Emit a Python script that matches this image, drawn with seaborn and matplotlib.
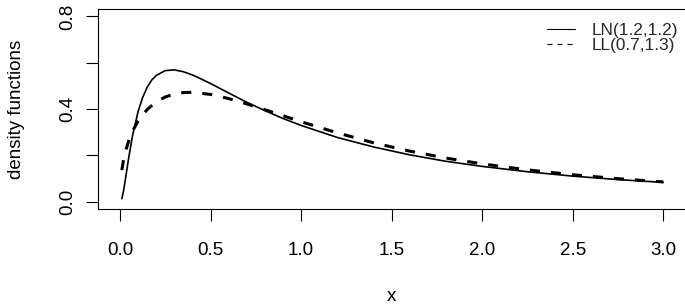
import numpy as np
import pandas as pd
import matplotlib
matplotlib.use('agg')
import matplotlib.pyplot as plt
import seaborn as sns
from matplotlib.lines import Line2D

# values
x_ln = [0.01, 0.02, 0.03, 0.04, 0.05, 0.07, 0.1, 0.125, 0.15, 0.175, 0.2, 0.25, 0.3,
        0.35, 0.4, 0.45, 0.5, 0.6, 0.7, 0.8, 0.9, 1.0, 1.2, 1.4, 1.6, 1.8, 2.0,
        2.25, 2.5, 2.75, 3.0]
ln_density = [0.012, 0.049, 0.098, 0.150, 0.199, 0.288, 0.390, 0.450, 0.494, 0.525,
              0.545, 0.566, 0.569, 0.561, 0.547, 0.529, 0.510, 0.469, 0.429, 0.393,
              0.359, 0.329, 0.277, 0.236, 0.202, 0.174, 0.152, 0.129, 0.110, 0.095,
              0.083]

x_ll = [0.01, 0.02, 0.03, 0.05, 0.075, 0.1, 0.15, 0.2, 0.25, 0.3, 0.35, 0.4, 0.5,
        0.6, 0.7, 0.8, 0.9, 1.0, 1.2, 1.4, 1.6, 1.8, 2.0, 2.25, 2.5, 2.75, 3.0]
ll_density = [0.136, 0.183, 0.217, 0.267, 0.313, 0.348, 0.398, 0.431, 0.452, 0.465,
              0.471, 0.472, 0.463, 0.445, 0.422, 0.397, 0.371, 0.345, 0.297, 0.254,
              0.218, 0.188, 0.163, 0.137, 0.116, 0.099, 0.085]

legend_labels = ["LN(1.2,1.2)", "LL(0.7,1.3)"]
x_ticks = [0.0, 0.5, 1.0, 1.5, 2.0, 2.5, 3.0]
y_ticks = [0.0, 0.2, 0.4, 0.6, 0.8]
y_ticklabels = ["0.0", "", "0.4", "", "0.8"]

sns.set_theme(style="ticks")
plt.rcParams['font.family'] = ['Liberation Sans', 'DejaVu Sans']

W, H = 685, 307
fig = plt.figure(figsize=(W / 100, H / 100), dpi=100)
ax = fig.add_axes([98.3 / W, (H - 209) / H, 1 - 98.3 / W, (209 - 9) / H])

sns.lineplot(x=x_ln, y=ln_density, ax=ax, color='black', lw=1.2)
sns.lineplot(x=x_ll, y=ll_density, ax=ax, color='black', lw=2.2,
             linestyle=(0, (3.3, 3.6)))

ax.set_xlim(-0.12, 3.12)
ax.set_ylim(-0.032, 0.832)
ax.set_xticks(x_ticks)
ax.set_xticklabels([f"{t:.1f}" for t in x_ticks])
ax.set_yticks(y_ticks)
ax.set_yticklabels(y_ticklabels)
for lbl in ax.get_yticklabels():
    lbl.set_rotation(90)
    lbl.set_va('center')

ax.tick_params(axis='both', direction='out', length=8.6, width=0.8,
               labelsize=13.5, color='black', labelcolor='black')
ax.tick_params(axis='x', pad=15.5)
ax.tick_params(axis='y', pad=7)

for side in ['left', 'bottom', 'top']:
    ax.spines[side].set_linewidth(0.8)
    ax.spines[side].set_color('black')
ax.spines['right'].set_visible(False)

ax.set_xlabel("x", fontsize=13.5, color='black')
ax.set_ylabel("density functions", fontsize=13.5, color='black')
ax.xaxis.set_label_coords(0.5, -0.397)
ax.yaxis.set_label_coords(-0.125, 0.5)

handles = [Line2D([], [], color='black', lw=0.8),
           Line2D([], [], color='black', lw=0.8, linestyle=(0, (4.5, 4.5)))]
ax.legend(handles, legend_labels, loc='upper right',
          bbox_to_anchor=(678 / W, (H - 23) / H), bbox_transform=fig.transFigure,
          frameon=False, fontsize=12.4, handlelength=1.63, handletextpad=0.97,
          labelspacing=0.0, borderpad=0, borderaxespad=0)

fig.savefig("out.png", dpi=100)
plt.close(fig)
